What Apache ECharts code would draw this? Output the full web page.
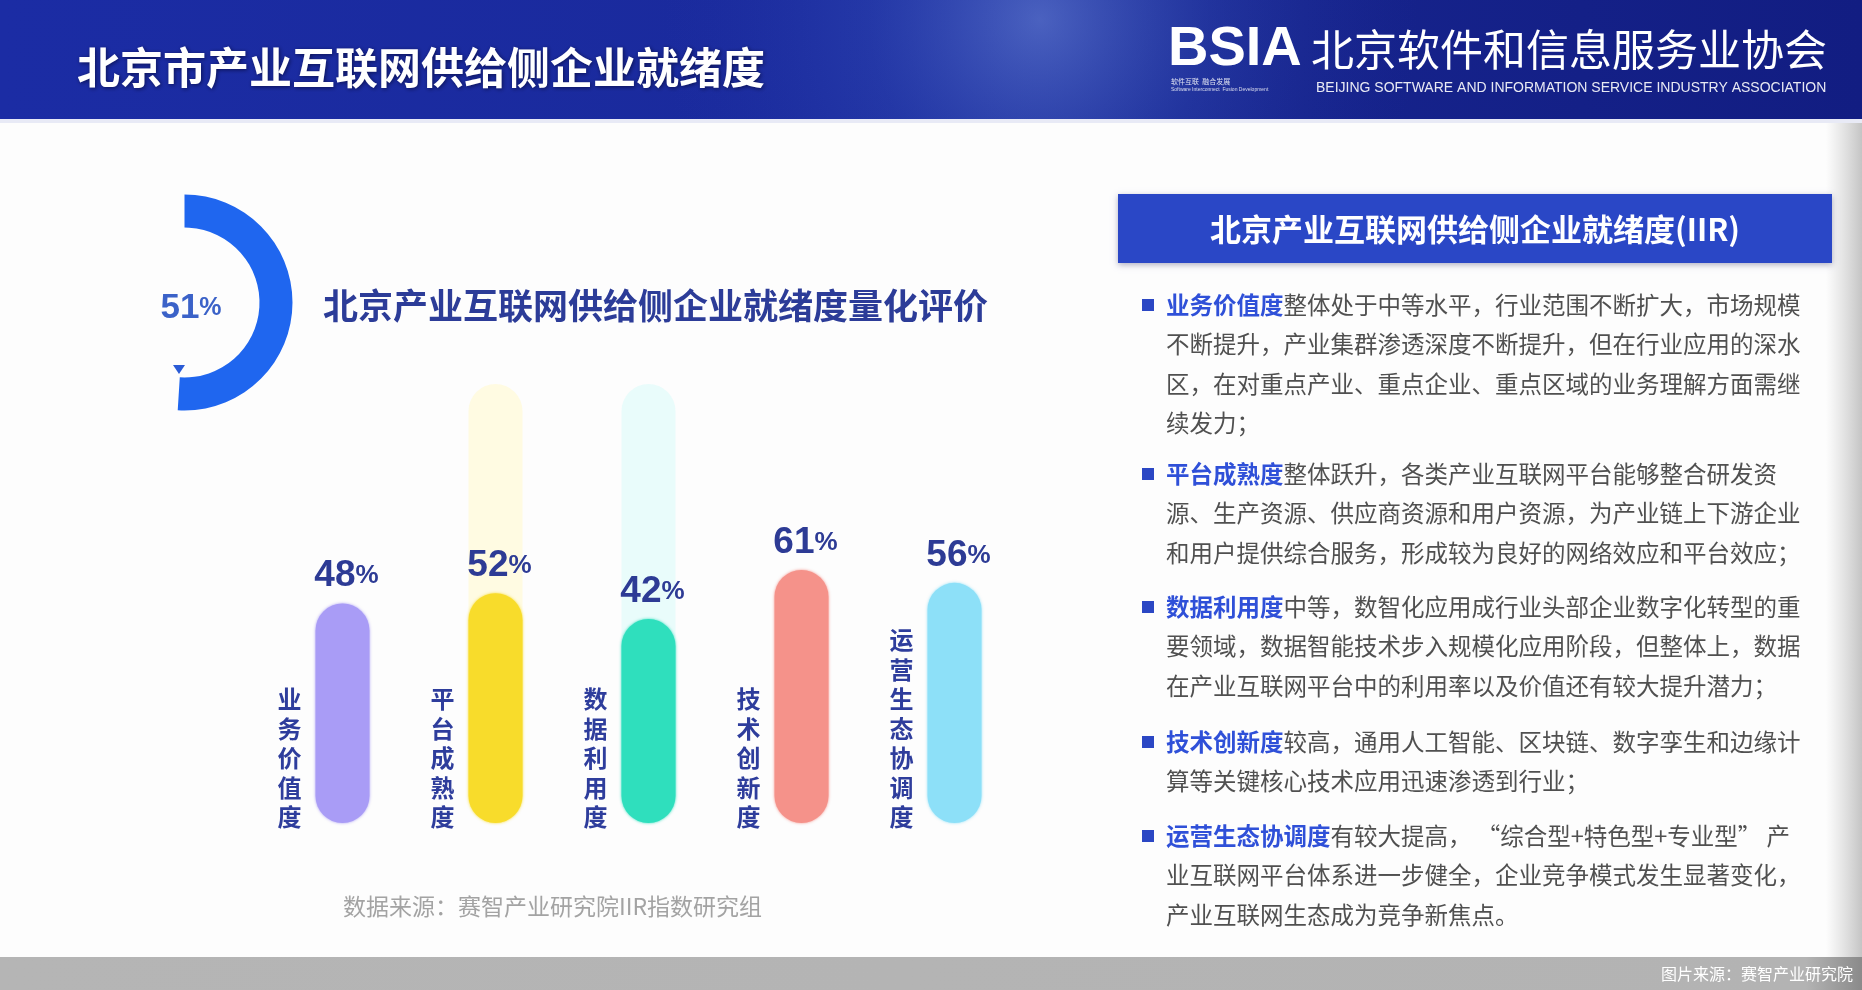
<!DOCTYPE html>
<html><head><meta charset="utf-8">
<script src="https://cdn.jsdelivr.net/npm/echarts@6/dist/echarts.min.js"></script>
<style>html,body{margin:0;padding:0;background:#fff;}#c{width:1862px;height:990px;}</style>
</head><body><div id="c"></div>
<script>
// ---------- data ----------
const pageTitle = '北京市产业互联网供给侧企业就绪度';
const orgAbbr = 'BSIA';
const orgName = '北京软件和信息服务业协会';
const orgEn = 'BEIJING SOFTWARE AND INFORMATION SERVICE INDUSTRY ASSOCIATION';
const orgSlogan = '软件互联  融合发展';
const chartTitle = '北京产业互联网供给侧企业就绪度量化评价';
const overallScore = 51;
const categories = ['业务价值度', '平台成熟度', '数据利用度', '技术创新度', '运营生态协调度'];
const values = [48, 52, 42, 61, 56];
const trackIndices = [1, 2];
const sourceNote = '数据来源：赛智产业研究院IIR指数研究组';
const panelTitle = '北京产业互联网供给侧企业就绪度(IIR)';
const panelLines = [
  ['整体处于中等水平，行业范围不断扩大，市场规模', '不断提升，产业集群渗透深度不断提升，但在行业应用的深水', '区，在对重点产业、重点企业、重点区域的业务理解方面需继', '续发力；'],
  ['整体跃升，各类产业互联网平台能够整合研发资', '源、生产资源、供应商资源和用户资源，为产业链上下游企业', '和用户提供综合服务，形成较为良好的网络效应和平台效应；'],
  ['中等，数智化应用成行业头部企业数字化转型的重', '要领域，数据智能技术步入规模化应用阶段，但整体上，数据', '在产业互联网平台中的利用率以及价值还有较大提升潜力；'],
  ['较高，通用人工智能、区块链、数字孪生和边缘计', '算等关键核心技术应用迅速渗透到行业；'],
  ['有较大提高， “综合型+特色型+专业型” 产', '业互联网平台体系进一步健全，企业竞争模式发生显著变化，', '产业互联网生态成为竞争新焦点。']
];
const imageCredit = '图片来源：赛智产业研究院';

// ---------- style / layout ----------
const CJK = '"Noto Sans CJK SC", "Noto Sans", sans-serif';
const LAT = '"Liberation Sans", Arial, "Noto Sans CJK SC", sans-serif';
const barColors = ['#a99cf6', '#f8dc2b', '#2fdfbd', '#f5928a', '#8de0f8'];
const trackColors = ['#f3f3ff', '#fffbe2', '#e9fcfb', '#fff0ee', '#eaf9fe'];
const NAVY = '#2d3b95';
const Y_MIN = -37, Y_MAX = 133;
const BAR_W = 54;
const paraTops = [305, 474, 607, 742, 836];
const LINE_H = 39.3;

const chart = echarts.init(document.getElementById('c'), null, {renderer: 'canvas'});

const graphics = [];
graphics.push({type: 'rect', z: -10, shape: {x: 0, y: 0, width: 1862, height: 990}, style: {fill: '#fdfdfd'}});
graphics.push({type: 'rect', z: -9, shape: {x: 1826, y: 122, width: 36, height: 836},
  style: {fill: new echarts.graphic.LinearGradient(0, 0, 1, 0, [{offset: 0, color: 'rgba(200,200,200,0)'}, {offset: 1, color: 'rgba(190,190,190,0.9)'}])}});
// header band
graphics.push({type: 'rect', z: -5, shape: {x: 0, y: 0, width: 1862, height: 122},
  style: {fill: new echarts.graphic.LinearGradient(0, 0, 1, 0, [
    {offset: 0, color: '#1b2ca4'}, {offset: 0.45, color: '#1a2a9c'}, {offset: 0.7, color: '#16238c'}, {offset: 1, color: '#121d82'}])}});
graphics.push({type: 'rect', z: -4, shape: {x: 500, y: 0, width: 1100, height: 120},
  style: {fill: new echarts.graphic.RadialGradient(1040, 20, 380, [
    {offset: 0, color: 'rgba(150,185,255,0.40)'}, {offset: 0.45, color: 'rgba(90,130,230,0.16)'}, {offset: 1, color: 'rgba(40,60,180,0)'}], true)}});
graphics.push({type: 'rect', z: -3, shape: {x: 0, y: 119, width: 1862, height: 4}, style: {fill: '#e8eaf6'}});
// header texts
graphics.push({type: 'text', x: 77, y: 68, style: {text: pageTitle, fill: '#ffffff', font: 'bold 43px ' + CJK,
  align: 'left', verticalAlign: 'middle', textAlign: 'left', textVerticalAlign: 'middle',
  textShadowColor: 'rgba(0,0,30,0.6)', textShadowBlur: 4, textShadowOffsetX: 1, textShadowOffsetY: 1}});
graphics.push({type: 'text', x: 1168, y: 50, style: {text: orgAbbr, fill: '#ffffff', font: 'bold 56px ' + LAT,
  align: 'left', verticalAlign: 'middle', textAlign: 'left', textVerticalAlign: 'middle'}});
graphics.push({type: 'text', x: 1171, y: 81, style: {text: orgSlogan, fill: 'rgba(255,255,255,0.85)', font: '7px ' + CJK,
  align: 'left', verticalAlign: 'middle'}});
graphics.push({type: 'text', x: 1171, y: 90, style: {text: 'Software Interconnect  Fusion Development', fill: 'rgba(255,255,255,0.8)', font: '5px ' + LAT,
  align: 'left', verticalAlign: 'middle'}});
graphics.push({type: 'text', x: 1311, y: 50, style: {text: orgName, fill: '#ffffff', font: '43px ' + CJK,
  align: 'left', verticalAlign: 'middle', textAlign: 'left', textVerticalAlign: 'middle'}});
graphics.push({type: 'text', x: 1316, y: 88, style: {text: orgEn, fill: 'rgba(255,255,255,0.9)', font: '14px ' + LAT,
  align: 'left', verticalAlign: 'middle', textAlign: 'left', textVerticalAlign: 'middle'}});

// left title and gauge texts
graphics.push({type: 'text', x: 323, y: 306, style: {text: chartTitle, fill: '#2c3c98', font: 'bold 35px ' + CJK,
  align: 'left', verticalAlign: 'middle', textAlign: 'left', textVerticalAlign: 'middle'}});
graphics.push({type: 'text', x: 191, y: 308, style: {text: '{n|' + overallScore + '}{p|%}', align: 'center', verticalAlign: 'middle',
  textAlign: 'center', textVerticalAlign: 'middle',
  rich: {n: {fill: '#3b62c8', font: 'bold 35px ' + LAT}, p: {fill: '#3b62c8', font: 'bold 25px ' + LAT}}}});
graphics.push({type: 'polygon', shape: {points: [[173, 365], [185, 365], [179, 374]]}, style: {fill: '#2a5bd6'}});
graphics.push({type: 'text', x: 343, y: 906, style: {text: sourceNote, fill: '#a3a3a3', font: '23px ' + CJK,
  align: 'left', verticalAlign: 'middle', textAlign: 'left', textVerticalAlign: 'middle'}});

// right panel
graphics.push({type: 'rect', shape: {x: 1118, y: 194, width: 714, height: 69},
  style: {fill: '#2a47c6', shadowBlur: 6, shadowColor: 'rgba(0,0,60,0.3)', shadowOffsetY: 2}});
graphics.push({type: 'text', x: 1475, y: 229, style: {text: panelTitle, fill: '#ffffff', font: 'bold 31px ' + CJK,
  align: 'center', verticalAlign: 'middle', textAlign: 'center', textVerticalAlign: 'middle'}});
panelLines.forEach((lines, p) => {
  const top = paraTops[p];
  graphics.push({type: 'rect', shape: {x: 1142, y: top - 6, width: 12, height: 12}, style: {fill: '#2b47c4'}});
  lines.forEach((ln, j) => {
    const txt = (j === 0 ? '{k|' + categories[p] + '}' : '') + '{t|' + ln + '}';
    graphics.push({type: 'text', x: 1166, y: top + j * LINE_H, style: {text: txt, align: 'left', verticalAlign: 'middle',
      textAlign: 'left', textVerticalAlign: 'middle',
      rich: {k: {fill: '#2f50d8', font: 'bold 23.5px ' + CJK}, t: {fill: '#505050', font: '23.5px ' + CJK}}}});
  });
});

// bottom band
graphics.push({type: 'rect', shape: {x: 0, y: 957, width: 1862, height: 33},
  style: {fill: new echarts.graphic.LinearGradient(0, 0, 1, 0, [{offset: 0, color: '#b5b5b5'}, {offset: 0.97, color: '#b3b3b3'}, {offset: 1, color: '#8a8a8a'}])}});
graphics.push({type: 'text', x: 1853, y: 974, style: {text: imageCredit, fill: '#ffffff', font: '16px ' + CJK,
  align: 'right', verticalAlign: 'middle', textAlign: 'right', textVerticalAlign: 'middle'}});

const option = {
  animation: false,
  backgroundColor: 'transparent',
  graphic: {elements: graphics},
  grid: {left: 266, top: 384, width: 765, height: 439, containLabel: false},
  xAxis: {type: 'category', data: categories, show: false},
  yAxis: {type: 'value', min: Y_MIN, max: Y_MAX, show: false},
  series: [
    {
      type: 'pie', silent: true, center: [184.5, 302.5], radius: [75, 108], startAngle: 90, clockwise: true,
      label: {show: false}, labelLine: {show: false}, emphasis: {disabled: true},
      itemStyle: {borderWidth: 0},
      data: [
        {name: '就绪度', value: overallScore, itemStyle: {color: '#1f66ef'}},
        {name: '其余', value: 100 - overallScore, itemStyle: {color: 'rgba(0,0,0,0)'}}
      ]
    },
    {
      type: 'custom', silent: true, z: 1,
      data: trackIndices.map(i => [i, Y_MAX]),
      encode: {x: 0, y: 1},
      renderItem: (params, api) => {
        const i = api.value(0);
        const top = api.coord([i, api.value(1)]);
        const bot = api.coord([i, Y_MIN]);
        return {type: 'rect', shape: {x: top[0] - BAR_W / 2, y: top[1], width: BAR_W, height: bot[1] - top[1], r: BAR_W / 2},
          style: {fill: trackColors[i]}};
      }
    },
    {
      type: 'custom', silent: true, z: 2,
      data: values.map((v, i) => [i, v]),
      encode: {x: 0, y: 1},
      renderItem: (params, api) => {
        const i = api.value(0);
        const v = api.value(1);
        const top = api.coord([i, v]);
        const bot = api.coord([i, Y_MIN]);
        return {type: 'group', children: [
          {type: 'rect', shape: {x: top[0] - BAR_W / 2, y: top[1], width: BAR_W, height: bot[1] - top[1], r: BAR_W / 2},
            style: {fill: barColors[i], shadowBlur: 3, shadowColor: barColors[i]}},
          {type: 'text', x: top[0] + 4, y: top[1] - 9, style: {text: '{n|' + v + '}{p|%}', align: 'center', verticalAlign: 'bottom',
            rich: {n: {fill: NAVY, font: 'bold 37px ' + LAT}, p: {fill: NAVY, font: 'bold 26px ' + LAT}}}},
          {type: 'text', x: top[0] - 53, y: bot[1] + 9, style: {text: categories[i].split('').join('\n'), align: 'center', verticalAlign: 'bottom',
            fill: '#2e3d9c', font: 'bold 24px ' + CJK, lineHeight: 29.5}}
        ]};
      }
    }
  ]
};
chart.setOption(option);
</script></body></html>
